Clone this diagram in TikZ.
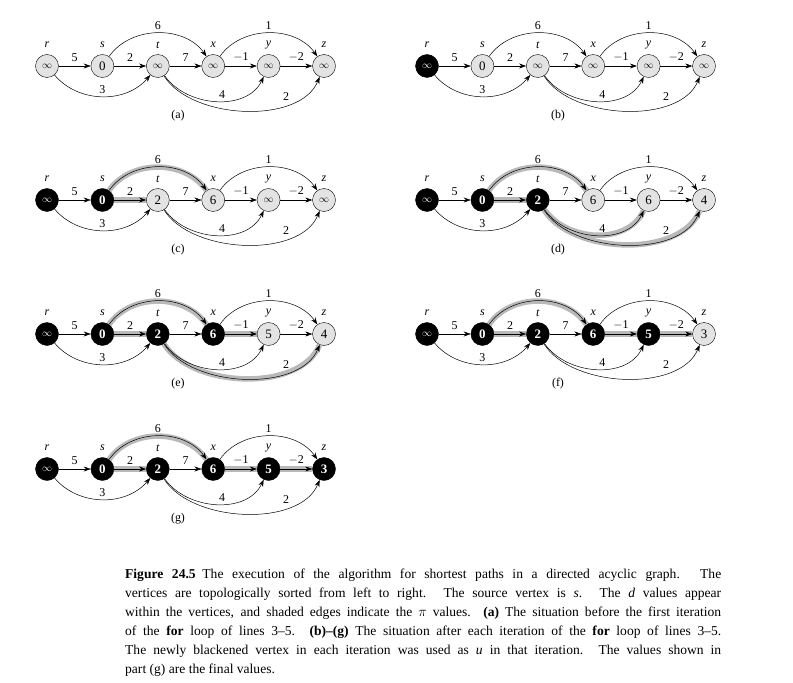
\documentclass[tikz,border=0pt]{standalone}
\usepackage{fontspec}
\setmainfont{Liberation Serif}
\usetikzlibrary{arrows.meta}
\tikzset{
 vtx/.style={circle,draw,minimum size=23bp,inner sep=0pt,font=\fontsize{13}{13}\selectfont},
 vg/.style={vtx,fill=gray!22},
 vb/.style={vtx,fill=black,text=white,font=\fontsize{13}{13}\selectfont\bfseries},
 arr/.style={-{Stealth[length=7bp,width=5bp]},line width=0.5pt},
 shd/.style={line width=5.5bp,draw=gray!55},
 ed-st/.style={},
 ed-sx/.style={out=55,in=125},
 ed-xz/.style={out=55,in=125},
 ed-rt/.style={out=-50,in=-130},
 ed-ty/.style={out=-55,in=-115},
 ed-tz/.style={out=-58,in=-112,looseness=0.85},
 ed-xy/.style={}, ed-yz/.style={},
 lab/.style={font=\fontsize{12}{12}\selectfont},
 nm/.style={font=\fontsize{12}{12}\selectfont\itshape}
}
\newcommand\inft{{\fontsize{10}{10}\selectfont$\infty$}}
\newcommand\dagpanel[6]{%
 \begin{scope}[shift={(#2,#3)}]
  \foreach \n/\st/\v [count=\i from 0] in {#5}{
   \node[\st] (#1-\n) at (\i*55.4,0) {\v};
   \node[nm] (#1-\n-l) at (\i*55.4,-21) {\textit{\n}};
  }
  \foreach \a/\b in {#6}{\draw[shd] (#1-\a) to[ed-\a\b] (#1-\b);}
  \draw[arr] (#1-r) -- node[lab,above=1bp]{5} (#1-s);
  \draw[arr] (#1-s) -- node[lab,above=1bp]{2} (#1-t);
  \draw[arr] (#1-t) -- node[lab,above=1bp]{7} (#1-x);
  \draw[arr] (#1-x) -- node[lab,above=1bp]{$-$1} (#1-y);
  \draw[arr] (#1-y) -- node[lab,above=1bp]{$-$2} (#1-z);
  \draw[arr] (#1-r) to[ed-rt] node[lab,above=-1bp,pos=0.5]{3} (#1-t);
  \draw[arr] (#1-s) to[ed-sx] node[lab,above=0bp,pos=0.5]{6} (#1-x);
  \draw[arr] (#1-x) to[ed-xz] node[lab,above=0bp,pos=0.5]{1} (#1-z);
  \draw[arr] (#1-t) to[ed-ty] node[lab,above=-1bp,pos=0.55]{4} (#1-y);
  \draw[arr] (#1-t) to[ed-tz] node[lab,above=1bp,pos=0.72]{2} (#1-z);
  \node[lab] (#1-cap) at (131,50) {(#4)};
 \end{scope}}
\begin{document}
\begin{tikzpicture}[x=1bp,y=-1bp]
\useasboundingbox (0,0) rectangle (793,683);
\fill[white] (0,0) rectangle (793,683);
\dagpanel{a}{47}{66}{a}{r/vg/\inft,s/vg/0,t/vg/\inft,x/vg/\inft,y/vg/\inft,z/vg/\inft}{}
\dagpanel{b}{427}{66}{b}{r/vb/\inft,s/vg/0,t/vg/\inft,x/vg/\inft,y/vg/\inft,z/vg/\inft}{}
\dagpanel{c}{47}{200}{c}{r/vb/\inft,s/vb/0,t/vg/2,x/vg/6,y/vg/\inft,z/vg/\inft}{s/t,s/x}
\dagpanel{d}{427}{200}{d}{r/vb/\inft,s/vb/0,t/vb/2,x/vg/6,y/vg/6,z/vg/4}{s/t,s/x,t/y,t/z}
\dagpanel{e}{47}{334}{e}{r/vb/\inft,s/vb/0,t/vb/2,x/vb/6,y/vg/5,z/vg/4}{s/t,s/x,x/y,t/z}
\dagpanel{f}{427}{334}{f}{r/vb/\inft,s/vb/0,t/vb/2,x/vb/6,y/vb/5,z/vg/3}{s/t,s/x,x/y,y/z}
\dagpanel{g}{47}{469}{g}{r/vb/\inft,s/vb/0,t/vb/2,x/vb/6,y/vb/5,z/vb/3}{s/t,s/x,x/y,y/z}
\node[anchor=north west,text width=596bp,inner sep=0pt,align=justify,
 font=\fontsize{13.6}{19}\selectfont] (caption) at (125,569) {%
\textbf{Figure 24.5}\enspace The execution of the algorithm for shortest paths in a directed acyclic graph. The\linebreak
vertices are topologically sorted from left to right. The source vertex is \textit{s}. The \textit{d} values appear\linebreak
within the vertices, and shaded edges indicate the $\pi$ values. \textbf{(a)} The situation before the first iteration\linebreak
of the \textbf{for} loop of lines 3--5. \textbf{(b)--(g)} The situation after each iteration of the \textbf{for} loop of lines 3--5.\linebreak
The newly blackened vertex in each iteration was used as \textit{u} in that iteration. The values shown in\linebreak
part (g) are the final values.};
\end{tikzpicture}
\end{document}
